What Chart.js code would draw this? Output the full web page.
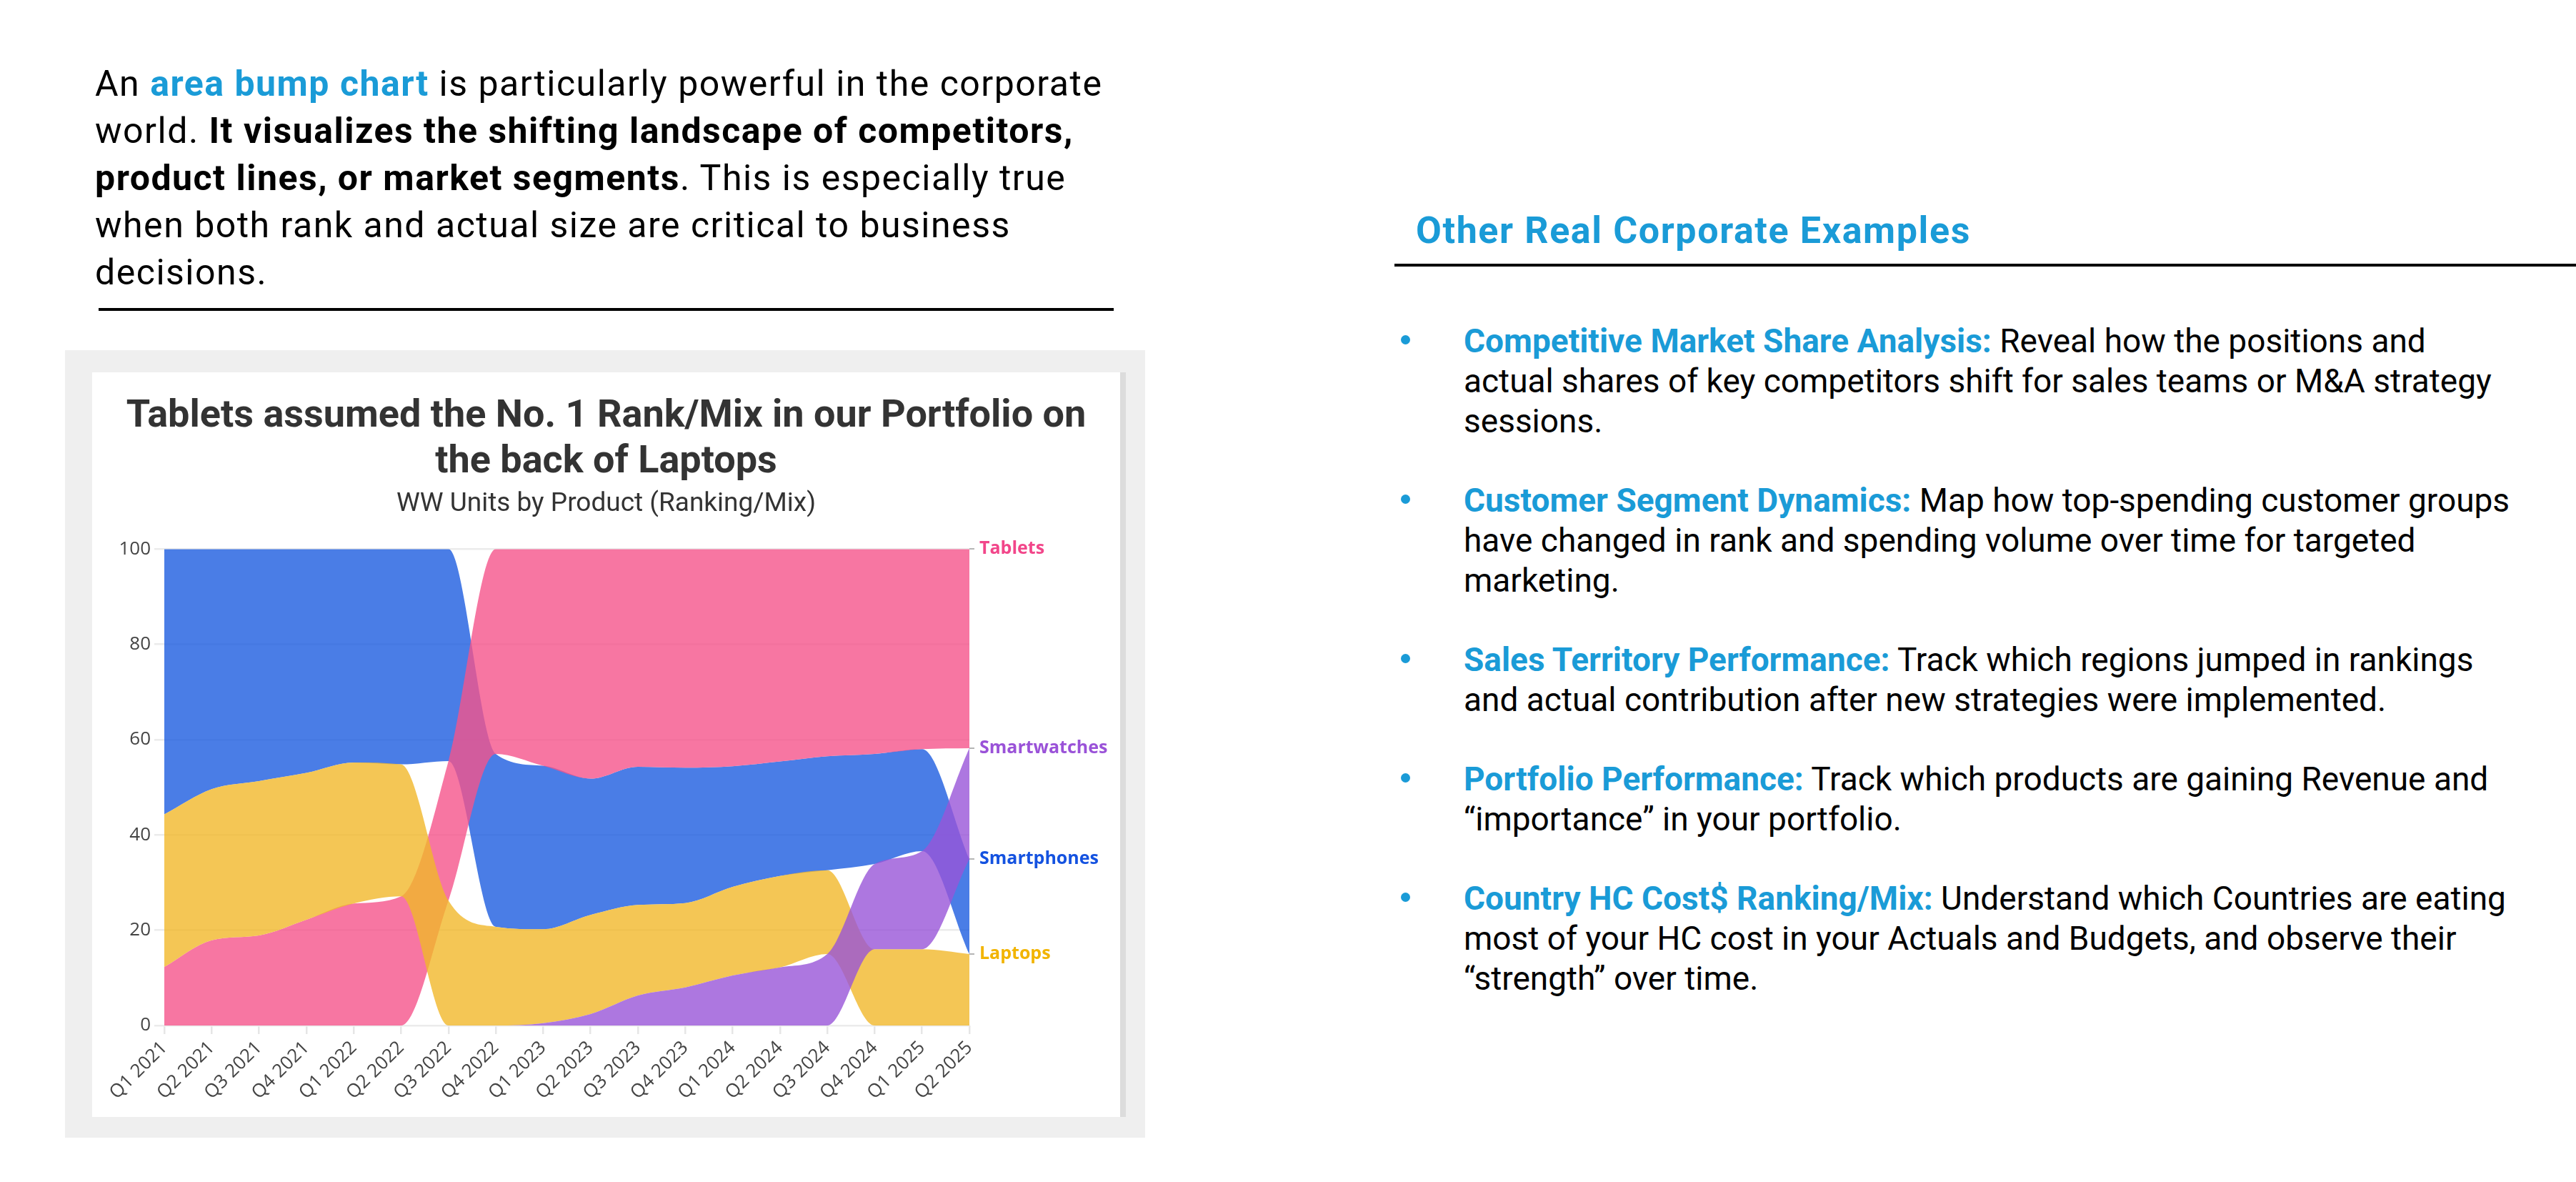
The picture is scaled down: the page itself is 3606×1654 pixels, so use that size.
<!DOCTYPE html>
<html>
<head>
<meta charset="utf-8">
<title>Area bump chart</title>
<script src="https://cdn.jsdelivr.net/npm/chart.js@4.4.1/dist/chart.umd.min.js"></script>
<style>
  html, body { margin: 0; padding: 0; background: #fff; }
  body { width: 3606px; height: 1654px; position: relative; overflow: hidden; font-family: Roboto, "Noto Sans", sans-serif; color: #000; }
  .intro { position: absolute; left: 133px; top: 84px; font-size: 50px; line-height: 66px; letter-spacing: 1.5px; white-space: nowrap; }
  .accent { color: #1a9bd7; font-weight: 700; }
  .rule { position: absolute; background: #000; height: 4px; }
  .frame { position: absolute; left: 91px; top: 490px; width: 1512px; height: 1102px; background: #efefef; }
  .card { position: absolute; left: 129px; top: 521px; width: 1439px; height: 1042px; background: #fff; }
  .card-edge { position: absolute; left: 1568px; top: 521px; width: 8px; height: 1042px; background: #dcdcdc; }
  .examples-title { position: absolute; left: 1982px; top: 293px; font-size: 52px; line-height: 60px; letter-spacing: 1.6px; font-weight: 700; color: #1a9bd7; white-space: nowrap; }
  ul.examples { position: absolute; left: 1961px; top: 449px; margin: 0; padding: 0; list-style: none; font-size: 46px; line-height: 56px; white-space: nowrap; }
  ul.examples li { position: relative; padding-left: 88px; margin-bottom: 55px; }
  ul.examples li::before { content: ''; position: absolute; left: 0; top: 20px; width: 13px; height: 13px; border-radius: 50%; background: #1a9bd7; }
</style>
</head>
<body>

<div class="intro">
  An <span class="accent">area bump chart</span> is particularly powerful in the corporate<br>
  world. <b>It visualizes the shifting landscape of competitors,</b><br>
  <b>product lines, or market segments</b>. This is especially true<br>
  when both rank and actual size are critical to business<br>
  decisions.
</div>
<div class="rule" style="left:138px; top:431px; width:1421px;"></div>

<div class="frame"></div>
<div class="card">
  <canvas id="bumpChart"></canvas>
</div>
<div class="card-edge"></div>

<div class="examples-title">Other Real Corporate Examples</div>
<div class="rule" style="left:1952px; top:369px; width:1654px;"></div>

<ul class="examples">
  <li><span class="accent">Competitive Market Share Analysis:</span> Reveal how the positions and<br>actual shares of key competitors shift for sales teams or M&amp;A strategy<br>sessions.</li>
  <li><span class="accent">Customer Segment Dynamics:</span> Map how top-spending customer groups<br>have changed in rank and spending volume over time for targeted<br>marketing.</li>
  <li><span class="accent">Sales Territory Performance:</span> Track which regions jumped in rankings<br>and actual contribution after new strategies were implemented.</li>
  <li><span class="accent">Portfolio Performance:</span> Track which products are gaining Revenue and<br>“importance” in your portfolio.</li>
  <li><span class="accent">Country HC Cost$ Ranking/Mix:</span> Understand which Countries are eating<br>most of your HC cost in your Actuals and Budgets, and observe their<br>“strength” over time.</li>
</ul>

<script>
// ==========================================
// DATA (mix % of WW units, per quarter)
// ==========================================
const quarters = ['Q1 2021', 'Q2 2021', 'Q3 2021', 'Q4 2021', 'Q1 2022', 'Q2 2022', 'Q3 2022', 'Q4 2022', 'Q1 2023',
                  'Q2 2023', 'Q3 2023', 'Q4 2023', 'Q1 2024', 'Q2 2024', 'Q3 2024', 'Q4 2024', 'Q1 2025', 'Q2 2025'];

const smartwatchesMix = [0, 0, 0, 0, 0, 0, 0, 0, 0.5, 2.4, 6.3, 8.0, 10.5, 12.2, 15.0, 17.9, 20.6, 23.3];
const laptopsMix      = [32.0, 31.7, 32.4, 30.8, 29.6, 27.7, 26.2, 20.7, 19.7, 20.8, 19.0, 17.7, 18.6, 19.2, 17.6, 16.0, 16.0, 15.0];
const tabletsMix      = [12.3, 17.9, 18.9, 22.2, 25.6, 27.1, 29.3, 43.0, 45.5, 48.2, 45.7, 45.9, 45.6, 44.6, 43.5, 43.0, 42.0, 41.8];
const smartphonesMix  = [55.7, 50.4, 48.7, 47.0, 44.8, 45.2, 44.5, 36.3, 34.3, 28.6, 29.0, 28.4, 25.3, 24.0, 23.9, 23.1, 21.4, 19.9];

// first entry is drawn on top
const productNames  = ['Smartwatches', 'Laptops', 'Tablets', 'Smartphones'];
const productColors = ['#9955d8', '#f1b82b', '#f5548b', '#1d5ce0'];
const labelColors   = ['#9a52d8', '#f2b400', '#f2468a', '#1452e0'];

const yTickStep = 20;

// ==========================================
// STACK BY RANK (smallest at the bottom)
// ==========================================
const buildBands = () => {
    const series = [smartwatchesMix, laptopsMix, tabletsMix, smartphonesMix];
    const lower = series.map(() => []);
    const upper = series.map(() => []);

    quarters.forEach((q, i) => {
        const order = series.map((s, k) => k).sort((a, b) => series[a][i] - series[b][i]);
        let base = 0;
        order.forEach(k => {
            lower[k].push(+base.toFixed(2));
            base += series[k][i];
            upper[k].push(+base.toFixed(2));
        });
    });
    return { lower, upper };
};

const bands = buildBands();

const hexToRgba = (hex, a) => {
    const n = parseInt(hex.slice(1), 16);
    return `rgba(${(n >> 16) & 255}, ${(n >> 8) & 255}, ${n & 255}, ${a})`;
};

const datasets = [];
productNames.forEach((name, k) => {
    const lowIndex = datasets.length;
    datasets.push({
        label: name + ' (base)',
        data: bands.lower[k],
        borderColor: 'rgba(0,0,0,0)',
        backgroundColor: 'rgba(0,0,0,0)',
        fill: false
    });
    datasets.push({
        label: name,
        data: bands.upper[k],
        borderColor: 'rgba(0,0,0,0)',
        backgroundColor: hexToRgba(productColors[k], 0.8),
        fill: { target: lowIndex }
    });
});

// right side labels sit on the top edge of each band at the last quarter
const last = quarters.length - 1;
const endTicks = productNames.map((name, k) => ({ value: bands.upper[k][last], name, color: labelColors[k] }))
    .sort((a, b) => b.value - a.value);

// ==========================================
// CHART
// ==========================================
const gridColor = '#ebebeb';
const tickFont = { family: 'Open Sans', size: 26 };

new Chart(document.getElementById('bumpChart').getContext('2d'), {
    type: 'line',
    data: { labels: quarters, datasets },
    options: {
        responsive: true,
        maintainAspectRatio: false,
        animation: false,
        layout: { padding: 0 },
        elements: {
            line: { cubicInterpolationMode: 'monotone', borderWidth: 0 },
            point: { radius: 0, hoverRadius: 0 }
        },
        plugins: {
            legend: { display: false },
            tooltip: { enabled: false },
            title: {
                display: true,
                text: ['Tablets assumed the No. 1 Rank/Mix in our Portfolio on', 'the back of Laptops'],
                color: '#333',
                font: { family: 'Roboto', size: 54, weight: 'bold', lineHeight: 1.19 },
                padding: { top: 30, bottom: 4 }
            },
            subtitle: {
                display: true,
                text: 'WW Units by Product (Ranking/Mix)',
                color: '#333',
                font: { family: 'Roboto', size: 37, lineHeight: 1.1 },
                padding: { top: 2, bottom: 42 }
            }
        },
        scales: {
            x: {
                offset: false,
                grid: { drawOnChartArea: false, tickLength: 12, color: '#e6e6e6', lineWidth: 2.5 },
                border: { display: false },
                ticks: { minRotation: 45, maxRotation: 45, autoSkip: false, padding: 4, color: '#444', font: tickFont },
                afterFit: s => { s.height = 128; }
            },
            y: {
                min: 0,
                max: 100,
                grid: { color: gridColor, lineWidth: 2.5, tickLength: 14 },
                border: { display: false },
                ticks: { stepSize: yTickStep, padding: 5, color: '#444', font: tickFont },
                afterFit: s => { s.width = 101; }
            },
            yRight: {
                position: 'right',
                min: 0,
                max: 100,
                afterBuildTicks: s => { s.ticks = endTicks.map(t => ({ value: t.value })); },
                grid: { drawOnChartArea: false, tickLength: 7, color: '#b5b5b5', lineWidth: 2 },
                border: { display: false },
                ticks: {
                    autoSkip: false,
                    padding: 7,
                    callback: (v, i) => endTicks[i] ? endTicks[i].name : '',
                    color: ctx => endTicks[ctx.index] ? endTicks[ctx.index].color : '#333',
                    font: { family: 'Open Sans', size: 25, weight: 'bold' }
                },
                afterFit: s => { s.width = 211; }
            }
        }
    }
});
</script>
</body>
</html>
